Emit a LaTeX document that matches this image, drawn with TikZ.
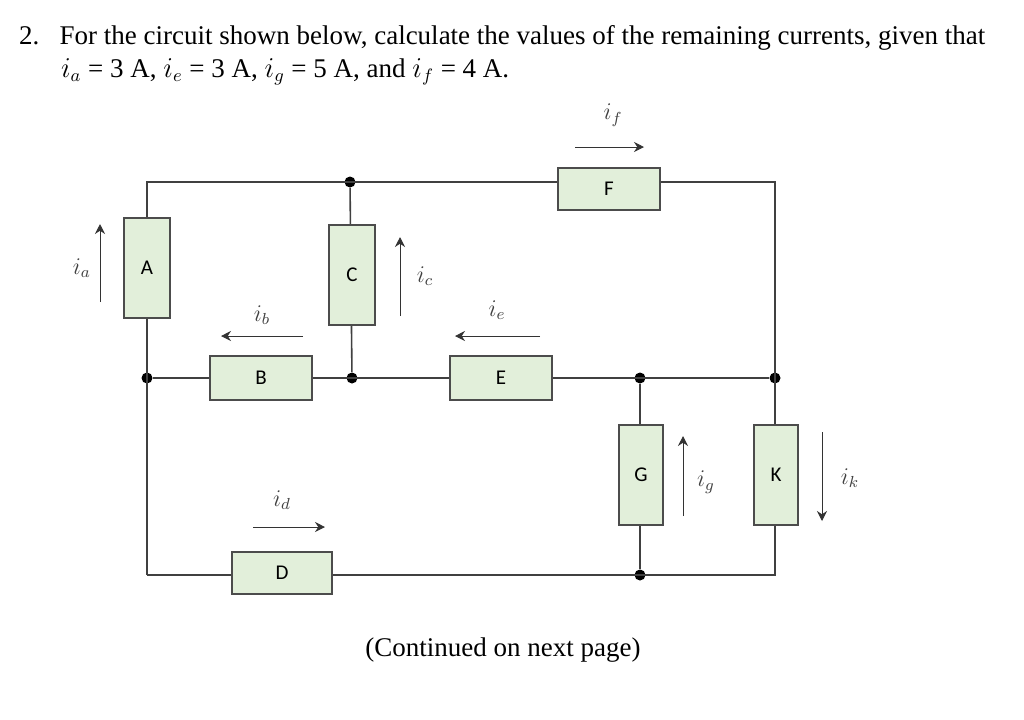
\documentclass[tikz,border=0pt]{standalone}
\usepackage{fontspec}
\setmainfont{Liberation Serif}
\newfontfamily\boxfont{Carlito}
\usetikzlibrary{arrows.meta}
\begin{document}
\begin{tikzpicture}[x=0.5pt,y=-0.5pt,
  wire/.style={draw=black!75,line width=0.8pt},
  comp/.style={draw=black!70,fill={rgb,255:red,226;green,239;blue,218},line width=0.8pt,font=\boxfont\fontsize{10.5}{12}\selectfont},
  dot/.style={circle,fill=black,inner sep=0pt,minimum size=5.5pt},
  cur/.style={-{Stealth[length=5pt,width=5pt]},black!80,line width=0.5pt},
  lab/.style={text=black!75,font=\fontsize{12}{14}\selectfont}]
\useasboundingbox (0,0) rectangle (1024,719);
\node[anchor=west,font=\fontsize{13.5}{15}\selectfont] (t1) at (12,38) {2.\hspace{0.75em}For the circuit shown below, calculate the values of the remaining currents, given that};
\node[anchor=west,font=\fontsize{13.5}{15}\selectfont] (t2) at (54,72) {$i_a$ = 3 A, $i_e$ = 3 A, $i_g$ = 5 A, and $i_f$ = 4 A.};
\coordinate (tl) at (147,182); \coordinate (tr) at (775,182);
\coordinate (bl) at (147,575); \coordinate (br) at (775,575);
\node[dot] (n1) at (350,182) {};
\node[dot] (m1) at (147,378) {};
\node[dot] (m2) at (352,378) {};
\node[dot] (m3) at (640,378) {};
\node[dot] (m4) at (775,378) {};
\node[dot] (b3) at (640,575) {};
\draw[wire] (bl) -- (tl) -- (tr) -- (br) -- (bl);
\draw[wire] (m1) -- (m4);
\draw[wire] (n1) -- (m2);
\draw[wire] (m3) -- (b3);
\node[comp,minimum width=51pt,minimum height=21pt] (F) at (609,189) {F};
\node[comp,minimum width=23pt,minimum height=50pt] (A) at (147,268) {A};
\node[comp,minimum width=23pt,minimum height=50pt] (C) at (352,275) {C};
\node[comp,minimum width=51pt,minimum height=22pt] (B) at (261,378) {B};
\node[comp,minimum width=51pt,minimum height=22pt] (E) at (501,378) {E};
\node[comp,minimum width=22pt,minimum height=50pt] (G) at (641,475) {G};
\node[comp,minimum width=22pt,minimum height=50pt] (K) at (776,475) {K};
\node[comp,minimum width=50pt,minimum height=21pt] (D) at (282,573) {D};
\coordinate (ia1) at (100,302); \coordinate (ia2) at (100,224);
\draw[cur] (ia1) -- (ia2); \node[lab] (la) at (82,268) {$i_a$};
\coordinate (ic1) at (400,316); \coordinate (ic2) at (400,237);
\draw[cur] (ic1) -- (ic2); \node[lab] (lc) at (425,276) {$i_c$};
\coordinate (ib1) at (303,336); \coordinate (ib2) at (221,336);
\draw[cur] (ib1) -- (ib2); \node[lab] (lb) at (262,315) {$i_b$};
\coordinate (ie1) at (540,336); \coordinate (ie2) at (455,336);
\draw[cur] (ie1) -- (ie2); \node[lab] (le) at (497,310) {$i_e$};
\coordinate (if1) at (575,147); \coordinate (if2) at (644,147);
\draw[cur] (if1) -- (if2); \node[lab] (lf) at (613,115) {$i_f$};
\coordinate (id1) at (253,527); \coordinate (id2) at (325,527);
\draw[cur] (id1) -- (id2); \node[lab] (ld) at (282,500) {$i_d$};
\coordinate (ig1) at (683,516); \coordinate (ig2) at (683,436);
\draw[cur] (ig1) -- (ig2); \node[lab] (lg) at (706,482) {$i_g$};
\coordinate (ik1) at (822,432); \coordinate (ik2) at (822,521);
\draw[cur] (ik1) -- (ik2); \node[lab] (lk) at (850,478) {$i_k$};
\node[font=\fontsize{13.5}{15}\selectfont] (cont) at (503,650) {(Continued on next page)};
\end{tikzpicture}
\end{document}
